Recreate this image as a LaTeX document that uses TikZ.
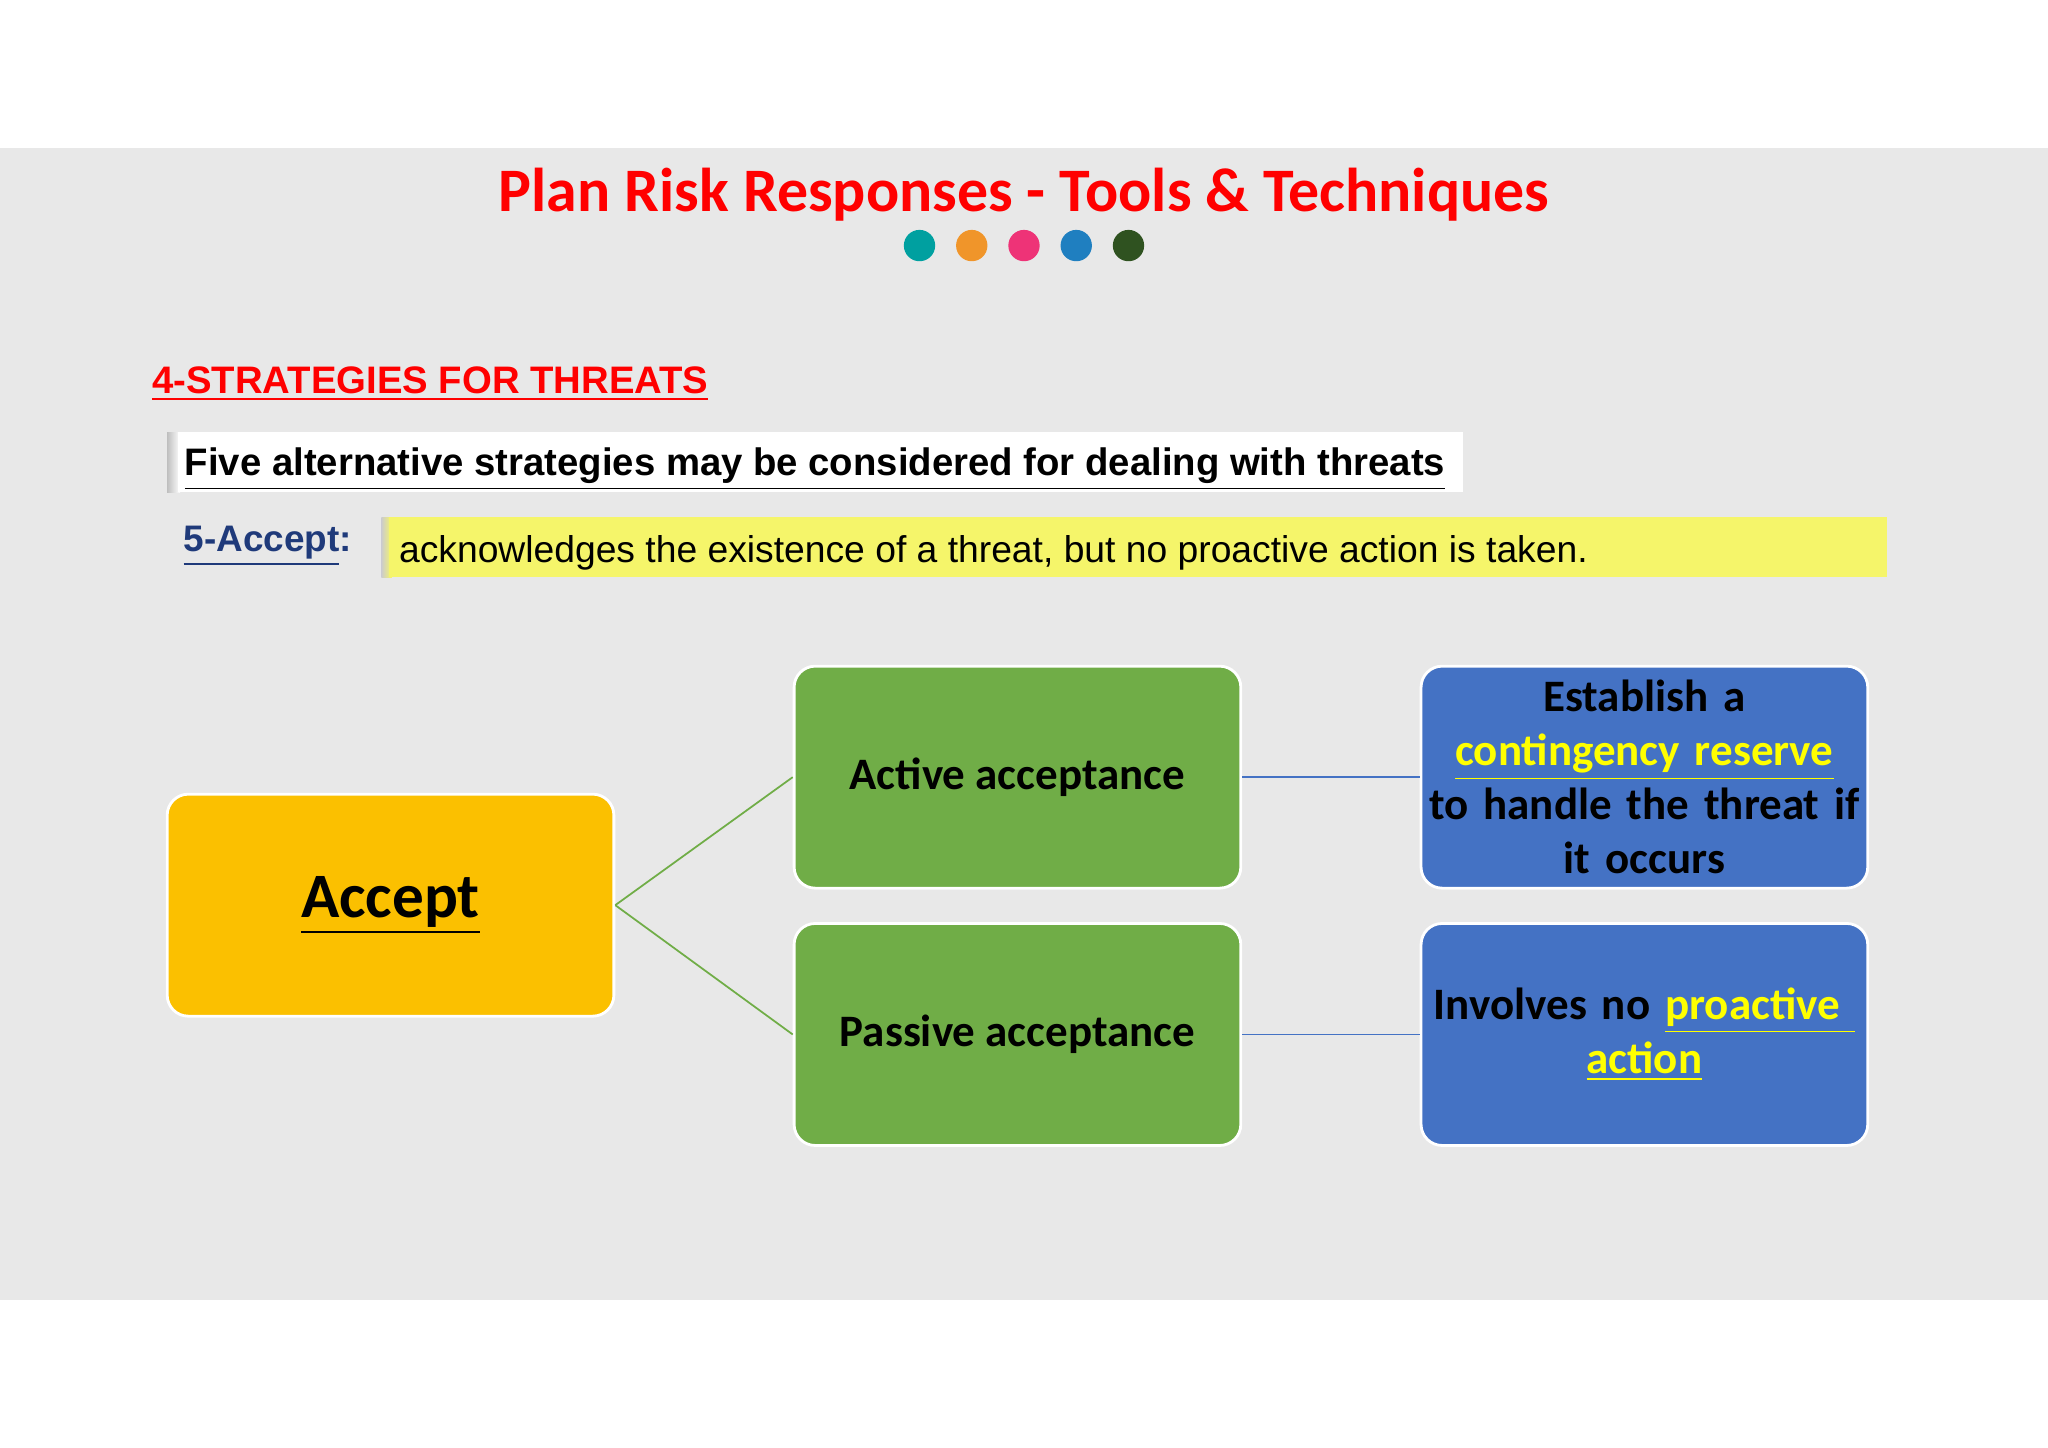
\documentclass[tikz,border=0pt]{standalone}
\usepackage{fontspec}
\setmainfont{Carlito}
\newfontfamily\arialf{Liberation Sans}
\begin{document}
\begin{tikzpicture}[x=0.013061cm,y=-0.013061cm,
 box/.style={rounded corners=6pt,draw=white,line width=0.8pt,align=center,minimum width=4.467cm,minimum height=2.22cm,font=\bfseries\fontsize{12.8}{15.4}\selectfont},
 conn/.style={line width=0.5pt}]
\useasboundingbox (0,0) rectangle (1568,1108);
\fill[white] (0,0) rectangle (1568,1108);
\fill[black!9] (0,113) rectangle (1568,995);
\node[text=red,font=\bfseries\fontsize{17.6}{20}\selectfont] (title) at (784,149) {Plan Risk Responses - Tools \& Techniques};
\foreach \x/\c in {704/00A0A0,744/F0952A,784/EE3377,824/1F7FC0,864/2F5220}{\definecolor{dc}{HTML}{\c}\fill[dc] (\x,188) circle (12);}
\node[anchor=west,text=red,font=\arialf\bfseries\fontsize{10.9}{13}\selectfont,inner sep=0] (h) at (116,294) {\underline{4-STRATEGIES FOR THREATS}};
\shade[left color=black!25,right color=white] (128,331) rectangle (138,377);
\fill[white] (136,331) rectangle (1120,377);
\node[anchor=west,font=\arialf\bfseries\fontsize{10.9}{12}\selectfont,inner sep=0] (five) at (141,359) {\underline{Five alternative strategies may be considered for dealing with threats}};
\definecolor{navy}{HTML}{1F3A7A}
\node[anchor=west,text=navy,font=\arialf\bfseries\fontsize{10.5}{12}\selectfont,inner sep=0] (ac) at (140,418) {\underline{5-Accept}:};
\definecolor{yel}{HTML}{F5F56A}
\shade[left color=black!20,right color=yel] (292,396) rectangle (300,442);
\fill[yel] (298,396) rectangle (1445,442);
\node[anchor=west,font=\arialf\fontsize{10.6}{12}\selectfont,inner sep=0] (def) at (305,423) {acknowledges the existence of a threat, but no proactive action is taken.};
\definecolor{org}{HTML}{FBC000}\definecolor{grn}{HTML}{70AD47}\definecolor{blu}{HTML}{4472C4}\definecolor{hy}{HTML}{FFFF00}
\node[box,fill=org,font=\bfseries\fontsize{18}{20}\selectfont] (acc) at (299,693) {\underline{Accept}};
\node[box,fill=grn] (act) at (779,595) {Active acceptance};
\node[box,fill=grn] (pas) at (779,792) {Passive acceptance};
\node[box,fill=blu,text width=4.35cm,inner sep=1pt] (b1) at (1259,595) {Establish a\\ \textcolor{hy}{\underline{contingency reserve}}\\ to handle the threat if\\ it occurs};
\node[box,fill=blu,text width=4.35cm,inner sep=1pt] (b2) at (1259,792) {Involves no \textcolor{hy}{\underline{proactive\ }}\\ \textcolor{hy}{\underline{action}}};
\draw[conn,grn] (acc.east) -- (act.west);
\draw[conn,grn] (acc.east) -- (pas.west);
\draw[conn,blu] (act.east) -- (b1.west);
\draw[conn,blu] (pas.east) -- (b2.west);
\end{tikzpicture}
\end{document}
